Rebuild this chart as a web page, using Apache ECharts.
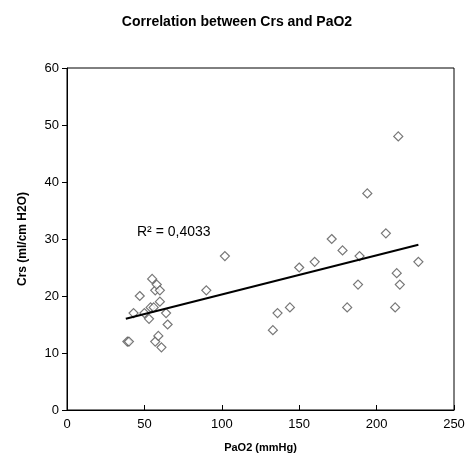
<!DOCTYPE html>
<html><head><meta charset="utf-8">
<script src="https://cdn.jsdelivr.net/npm/echarts@6/dist/echarts.min.js"></script>
<style>html,body{margin:0;background:#fff}#c{width:474px;height:474px}</style>
</head><body><div id="c"></div>
<script>
// PaO2 (mmHg) vs Crs (ml/cm H2O)
var pao2 = [39,40,43,47,50,53,54,55,56,57,58,57,59,60,60,61,64,65,90,102,133,136,144,150,160,171,178,181,188,189,194,206,212,213,214,215,227];
var crs  = [12,12,17,20,17,16,18,23,18,21,22,12,13,19,21,11,17,15,21,27,14,17,18,25,26,30,28,18,22,27,38,31,18,24,48,22,26];
var trendX = [38, 227];
var trendY = [16, 29];

var myChart = echarts.init(document.getElementById('c'));
var pts = pao2.map(function(v, i){ return [v, crs[i]]; });
var axisTxt = {color:'#000', fontFamily:'Liberation Sans', fontSize:13};
myChart.setOption({
  animation: false,
  title: {text:'Correlation between Crs and PaO2', left:'center', top:10,
    textStyle:{fontFamily:'Liberation Sans', fontSize:14, fontWeight:'bold', color:'#000'}},
  grid: {left:67, right:20, top:68, bottom:64, show:true, borderColor:'#000', borderWidth:1},
  xAxis: {type:'value', min:0, max:250, interval:50, name:'PaO2 (mmHg)', nameLocation:'middle', nameGap:32,
    nameTextStyle:{fontFamily:'Liberation Sans', fontSize:11, fontWeight:'bold', color:'#000'},
    axisLine:{lineStyle:{color:'#000'}}, axisTick:{show:true, inside:true, lineStyle:{color:'#000'}},
    axisLabel:axisTxt, splitLine:{show:false}},
  yAxis: {type:'value', min:0, max:60, interval:10, name:'Crs (ml/cm H2O)', nameLocation:'middle', nameGap:38,
    nameTextStyle:{fontFamily:'Liberation Sans', fontSize:12, fontWeight:'bold', color:'#000'},
    axisLine:{show:true, lineStyle:{color:'#000'}}, axisTick:{show:true, lineStyle:{color:'#000'}},
    axisLabel:axisTxt, splitLine:{show:false}},
  series: [
    {type:'scatter', data:pts, symbol:'diamond', symbolSize:9,
      itemStyle:{color:'#fff', borderColor:'#555', borderWidth:1.2}},
    {type:'line', data:[[trendX[0],trendY[0]],[trendX[1],trendY[1]]], symbol:'none',
      lineStyle:{color:'#000', width:2}}
  ],
  graphic: [{type:'text', left:137, top:225,
    style:{text:'R² = 0,4033', fontFamily:'Liberation Sans', fontSize:14, fill:'#000'}}]
});
</script></body></html>
